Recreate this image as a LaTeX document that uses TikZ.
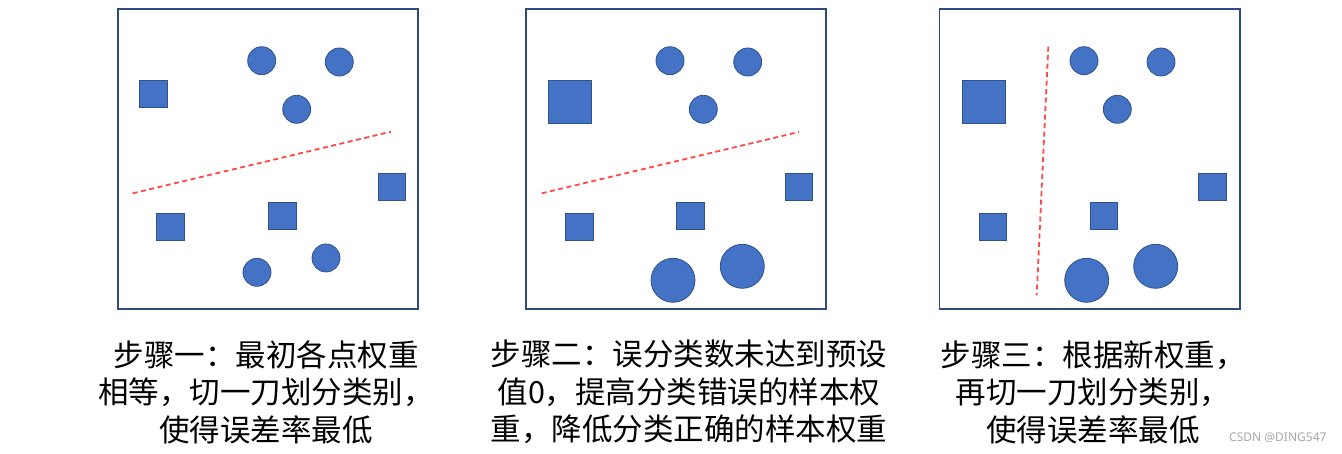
\documentclass[tikz,border=0pt]{standalone}
\usepackage{fontspec}
\newfontfamily\cjk{Noto Sans CJK SC}
\definecolor{shapeblue}{HTML}{4472C4}
\definecolor{edgeblue}{HTML}{2F528F}
\definecolor{framecol}{HTML}{2F4A80}
\definecolor{cutred}{HTML}{FF4848}
\tikzset{
  panel/.style={draw=framecol, line width=1.6pt},
  dot/.style={circle, fill=shapeblue, draw=edgeblue, line width=0.8pt, inner sep=0pt, minimum size=28pt},
  bigdot/.style={dot, minimum size=44pt},
  box/.style={rectangle, fill=shapeblue, draw=edgeblue, line width=0.8pt, inner sep=0pt, minimum size=27.5pt},
  bigbox/.style={box, minimum size=43.5pt},
  cut/.style={draw=cutred, line width=1.8pt, dash pattern=on 5pt off 3.5pt},
  caption/.style={align=center, font=\cjk\fontsize{30.5}{37.5}\selectfont}
}
\begin{document}
\begin{tikzpicture}[x=1pt, y=-1pt]
\useasboundingbox (0,0) rectangle (1342,454);

% step one
\draw[panel] (118,9) rectangle (418,309);
\node(sqA1)  [box]  at (153.5,94)   {};
\node(cA1)   [dot]  at (261.7,60.7) {};
\node(cA2)   [dot]  at (339.3,62)   {};
\node(cA3)   [dot]  at (296.7,109.3){};
\node(sqA2)  [box]  at (391.7,187)  {};
\node(sqA3)  [box]  at (170.3,227)  {};
\node(sqA4)  [box]  at (282.5,215.8){};
\node(cA4)   [dot]  at (257,272.3)  {};
\node(cA5)   [dot]  at (326,258)    {};
\coordinate(cutA1) at (132.7,193.3);
\coordinate(cutA2) at (391,131.7);
\draw[cut]   (cutA1) -- (cutA2);
\node(txtA)  [caption] at (266,392) {步骤一：最初各点权重\\相等，切一刀划分类别，\\使得误差率最低};

% step two
\draw[panel] (525.7,9) rectangle (825.7,309);
\node(sqB1)  [bigbox] at (570,102)   {};
\node(cB1)   [dot]    at (670,60.7)  {};
\node(cB2)   [dot]    at (747.7,62)  {};
\node(cB3)   [dot]    at (703.3,109.3){};
\node(sqB2)  [box]    at (799,187)   {};
\node(sqB3)  [box]    at (579.3,227) {};
\node(sqB4)  [box]    at (690.3,215.8){};
\node(cB4)   [bigdot] at (673,280.3) {};
\node(cB5)   [bigdot] at (742.3,266.3){};
\coordinate(cutB1) at (541.7,193.3);
\coordinate(cutB2) at (798.7,132);
\draw[cut]   (cutB1) -- (cutB2);
\node(txtB)  [caption] at (689,392) {步骤二：误分类数未达到预设\\值0，提高分类错误的样本权\\重，降低分类正确的样本权重};

% step three
\draw[panel] (939.3,9) rectangle (1240,309);
\node(sqC1)  [bigbox] at (983.7,102)  {};
\node(cC1)   [dot]    at (1084,60.7)  {};
\node(cC2)   [dot]    at (1161,62)    {};
\node(cC3)   [dot]    at (1117.3,109.3){};
\node(sqC2)  [box]    at (1212.5,187) {};
\node(sqC3)  [box]    at (993,227)    {};
\node(sqC4)  [box]    at (1104,215.8) {};
\node(cC4)   [bigdot] at (1086.7,280.3){};
\node(cC5)   [bigdot] at (1155.7,266.3){};
\coordinate(cutC1) at (1048.3,46.7);
\coordinate(cutC2) at (1036.7,295.3);
\draw[cut]   (cutC1) -- (cutC2);
\node(txtC)  [caption] at (1093,392) {步骤三：根据新权重，\\再切一刀划分类别，\\使得误差率最低};

\node(mark)  [font=\fontspec{Noto Sans}\fontsize{12}{14}\selectfont, text=gray!70, anchor=east] at (1330,438) {CSDN @DING547};
\end{tikzpicture}
\end{document}
